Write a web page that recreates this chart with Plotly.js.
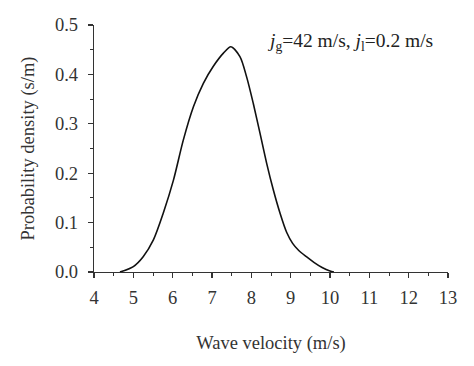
<!DOCTYPE html>
<html>
<head>
<meta charset="utf-8">
<script src="https://cdn.plot.ly/plotly-3.0.1.min.js"></script>
<style>html,body{margin:0;padding:0;background:#fff;}#chart{width:474px;height:366px;}</style>
</head>
<body>
<div id="chart"></div>
<script>
const waveVelocity = [4.66, 5.0, 5.25, 5.51, 5.76, 6.02, 6.27, 6.53, 6.78, 7.03, 7.29, 7.48, 7.71, 7.88, 8.05, 8.22, 8.39, 8.56, 8.73, 8.90, 9.05, 9.2, 9.4, 9.6, 9.8, 10.0, 10.1];
const probDensity  = [0.0, 0.011, 0.031, 0.065, 0.119, 0.186, 0.267, 0.335, 0.382, 0.416, 0.443, 0.456, 0.436, 0.395, 0.341, 0.281, 0.220, 0.166, 0.119, 0.080, 0.058, 0.044, 0.031, 0.019, 0.009, 0.002, 0.0];
const xTicks = [4, 5, 6, 7, 8, 9, 10, 11, 12, 13];
const yTicks = [0, 0.1, 0.2, 0.3, 0.4, 0.5];

const font = 'Liberation Serif, Times New Roman, serif';
const trace = {
  x: waveVelocity, y: probDensity, type: 'scatter', mode: 'lines',
  line: {color: '#111', width: 1.6, shape: 'spline', smoothing: 0.8},
  hoverinfo: 'none'
};
const layout = {
  width: 474, height: 366,
  margin: {l: 94, r: 26, t: 25, b: 94},
  paper_bgcolor: '#fff', plot_bgcolor: '#fff',
  showlegend: false,
  font: {family: font, size: 18, color: '#333'},
  xaxis: {
    range: [4, 13], tickvals: xTicks, ticks: 'outside', ticklen: 5, tickwidth: 1.2, tickcolor: '#333',
    showline: true, linecolor: '#333', linewidth: 1.2, showgrid: false, zeroline: false,
    ticklabelstandoff: 4,
    minor: {dtick: 0.5, ticks: 'outside', ticklen: 3, tickcolor: '#333', tickwidth: 1},
    title: {text: 'Wave velocity (m/s)', font: {family: font, size: 18.5, color: '#333'}, standoff: 28},
    tickfont: {family: font, size: 18.5, color: '#333'}
  },
  yaxis: {
    range: [0, 0.5], tickvals: yTicks, tickformat: '.1f', ticks: 'outside', ticklen: 5, tickwidth: 1.2, tickcolor: '#333',
    showline: true, linecolor: '#333', linewidth: 1.2, showgrid: false, zeroline: false,
    ticklabelstandoff: 6,
    minor: {dtick: 0.05, ticks: 'outside', ticklen: 3, tickcolor: '#333', tickwidth: 1},
    title: {text: 'Probability density (s/m)', font: {family: font, size: 18.5, color: '#333'}, standoff: 15},
    tickfont: {family: font, size: 18.5, color: '#333'}
  },
  annotations: [{
    x: 8.35, y: 0.466, xref: 'x', yref: 'y', xanchor: 'left', yanchor: 'middle', showarrow: false,
    text: '<i>j</i><sub>g</sub>=42 m/s, <i>j</i><sub>l</sub>=0.2 m/s',
    font: {family: font, size: 19.5, color: '#222'}
  }]
};
Plotly.newPlot('chart', [trace], layout, {staticPlot: true, displayModeBar: false});
</script>
</body>
</html>
